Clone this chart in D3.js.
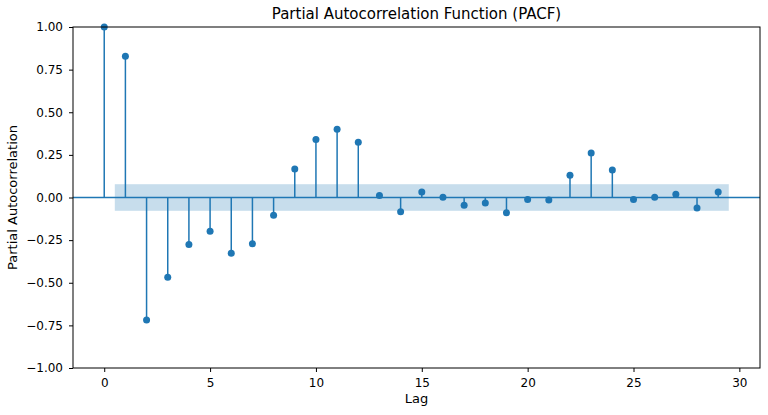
<!DOCTYPE html>
<html lang="en">
<head>
<meta charset="utf-8">
<script src="https://d3js.org/d3.v7.min.js"></script>
<style>
  body { margin: 0px; background: #fff; }
  .tick text { font-family: "DejaVu Sans", sans-serif; font-size: 12px; fill: #000; }
  .tick line { stroke: #000; }
  .title { font-family: "DejaVu Sans", sans-serif; font-size: 15px; fill: #000; }
  .axis-label { font-family: "DejaVu Sans", sans-serif; font-size: 13px; fill: #000; }
</style>
</head>
<body>
<svg width="768" height="415"></svg>
<script>
  // PACF values, lags 0..29
  const lags = d3.range(0, 30);
  const pacf = [1.0, 0.828, -0.718, -0.468, -0.276, -0.198, -0.327, -0.271, -0.104, 0.167,
                0.340, 0.400, 0.324, 0.011, -0.083, 0.032, 0.001, -0.046, -0.032, -0.089,
                -0.011, -0.015, 0.130, 0.261, 0.161, -0.011, 0.001, 0.019, -0.062, 0.032];
  const confBand = 0.078;
  const bandLags = [0.5, 29.5];
  const xTicks = [0, 5, 10, 15, 20, 25, 30];
  const yTicks = [-1, -0.75, -0.5, -0.25, 0, 0.25, 0.5, 0.75, 1];

  const color = '#1f77b4';
  const margin = { left: 73, right: 8, top: 27, bottom: 47 };

  const svg = d3.select('svg');
  const width = +svg.attr('width');
  const height = +svg.attr('height');
  const innerWidth = width - margin.left - margin.right;
  const innerHeight = height - margin.top - margin.bottom;

  const g = svg.append('g')
    .attr('transform', `translate(${margin.left},${margin.top})`);

  const xScale = d3.scaleLinear().domain([-1.475, 30.975]).range([0, innerWidth]);
  const yScale = d3.scaleLinear().domain([-1, 1]).range([innerHeight, 0]);

  // confidence band
  g.append('rect')
    .attr('x', xScale(bandLags[0]))
    .attr('y', yScale(confBand))
    .attr('width', xScale(bandLags[1]) - xScale(bandLags[0]))
    .attr('height', yScale(-confBand) - yScale(confBand))
    .attr('fill', color)
    .attr('fill-opacity', 0.25);

  // zero line across axes
  g.append('line')
    .attr('x1', 0).attr('x2', innerWidth)
    .attr('y1', yScale(0)).attr('y2', yScale(0))
    .attr('stroke', color).attr('stroke-width', 1.5);

  const data = lags.map((l, i) => ({ lag: l, v: pacf[i] }));

  g.selectAll('.stem').data(data)
    .enter().append('line')
      .attr('class', 'stem')
      .attr('x1', d => xScale(d.lag)).attr('x2', d => xScale(d.lag))
      .attr('y1', yScale(0)).attr('y2', d => yScale(d.v))
      .attr('stroke', color).attr('stroke-width', 1.5);

  g.selectAll('.dot').data(data)
    .enter().append('circle')
      .attr('class', 'dot')
      .attr('cx', d => xScale(d.lag))
      .attr('cy', d => yScale(d.v))
      .attr('r', 3.5)
      .attr('fill', color);

  // axes
  const xAxisG = g.append('g')
    .attr('transform', `translate(0,${innerHeight})`)
    .call(d3.axisBottom(xScale).tickValues(xTicks).tickSize(4).tickPadding(6)
      .tickFormat(d3.format('d')));
  const yAxisG = g.append('g')
    .call(d3.axisLeft(yScale).tickValues(yTicks).tickSize(4).tickPadding(6)
      .tickFormat(d => d3.format('.2f')(d).replace('-', '\u2212')));
  xAxisG.select('.domain').remove();
  yAxisG.select('.domain').remove();

  // spines
  g.append('rect')
    .attr('x', 0).attr('y', 0)
    .attr('width', innerWidth).attr('height', innerHeight)
    .attr('fill', 'none').attr('stroke', '#000').attr('stroke-width', 1);

  svg.append('text')
    .attr('class', 'title')
    .attr('x', margin.left + innerWidth / 2)
    .attr('y', 19)
    .attr('text-anchor', 'middle')
    .text('Partial Autocorrelation Function (PACF)');

  svg.append('text')
    .attr('class', 'axis-label')
    .attr('x', margin.left + innerWidth / 2)
    .attr('y', 403)
    .attr('text-anchor', 'middle')
    .text('Lag');

  svg.append('text')
    .attr('class', 'axis-label')
    .attr('transform', `translate(17,${margin.top + innerHeight / 2}) rotate(-90)`)
    .attr('text-anchor', 'middle')
    .text('Partial Autocorrelation');
</script>
</body>
</html>
